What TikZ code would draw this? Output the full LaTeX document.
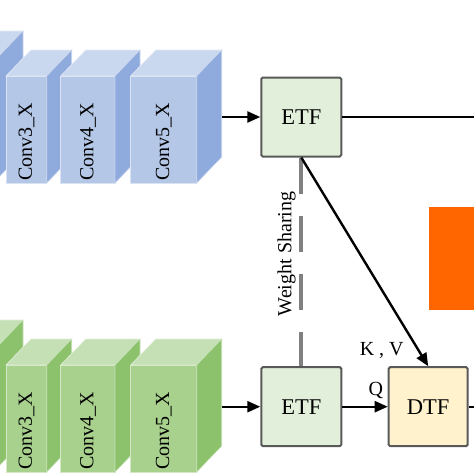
\documentclass[tikz,border=0pt]{standalone}
\usepackage{fontspec}
\setmainfont{Liberation Serif}
\usetikzlibrary{arrows.meta}
\definecolor{bfront}{HTML}{B4C7E7}
\definecolor{btop}{HTML}{CAD8EF}
\definecolor{bside}{HTML}{8FAADC}
\definecolor{gfront}{HTML}{A9D18E}
\definecolor{gtop}{HTML}{C5E0B4}
\definecolor{gside}{HTML}{8CC26C}
\definecolor{etfc}{HTML}{E2EFDA}
\definecolor{dtfc}{HTML}{FFF2CC}
\definecolor{edgec}{HTML}{595959}
\definecolor{orangec}{HTML}{FF6600}
\definecolor{dashc}{HTML}{808080}
\newcommand{\mycuboid}[7]{%
 \fill[#5,draw=white!50!#5,line width=0.6pt] (#1,#3) rectangle (#2,#4);
 \fill[#6,draw=white!50!#6,line width=0.6pt] (#1,#3) -- (#1+25,#3-26) -- (#2+25,#3-26) -- (#2,#3) -- cycle;
 \fill[#7,draw=white!50!#7,line width=0.6pt] (#2,#3) -- (#2+25,#3-26) -- (#2+25,#4-26) -- (#2,#4) -- cycle;
}
\tikzset{
 blk/.style={draw=edgec,line width=2pt,rounded corners=1.5pt,minimum width=80pt,minimum height=79pt,inner sep=0pt,font=\fontsize{22.5}{26}\selectfont},
 convlbl/.style={rotate=90,inner sep=0pt,font=\fontsize{20}{24}\selectfont},
 lbl/.style={inner sep=0pt,anchor=base,font=\fontsize{20}{24}\selectfont},
 arr/.style={line width=2.4pt,-{Triangle[length=13pt,width=11pt]}},
 ln/.style={line width=2.4pt},
}
\begin{document}
\begin{tikzpicture}[x=1pt,y=-1pt]
\useasboundingbox (0,0) rectangle (474,474);
\begin{scope}
\clip (0,0) rectangle (474,474);
\mycuboid{-60}{-2}{57}{178}{bfront}{btop}{bside}
\mycuboid{6}{46.7}{76}{183}{bfront}{btop}{bside}
\mycuboid{60.7}{115}{76}{183}{bfront}{btop}{bside}
\mycuboid{130.7}{196.7}{76}{183}{bfront}{btop}{bside}
\mycuboid{-60}{-2}{346}{467}{gfront}{gtop}{gside}
\mycuboid{6}{46.7}{365}{472}{gfront}{gtop}{gside}
\mycuboid{60.7}{115}{365}{472}{gfront}{gtop}{gside}
\mycuboid{130.7}{196.7}{365}{472}{gfront}{gtop}{gside}
\end{scope}
\node[convlbl] (c3a) at (26.5,141.5) {Conv3\_X};
\node[convlbl] (c4a) at (88,141.5) {Conv4\_X};
\node[convlbl] (c5a) at (163.7,141.5) {Conv5\_X};
\node[convlbl] (c3b) at (26.5,430.5) {Conv3\_X};
\node[convlbl] (c4b) at (88,430.5) {Conv4\_X};
\node[convlbl] (c5b) at (163.7,430.5) {Conv5\_X};
\fill[orangec] (428.7,207.3) rectangle (474,309.7);
\node[blk,fill=etfc] (etf1) at (301.3,117) {ETF};
\node[blk,fill=etfc] (etf2) at (301.3,406.7) {ETF};
\node[blk,fill=dtfc,minimum width=79pt] (dtf) at (428.2,406.7) {DTF};
\coordinate (o5a) at (221.7,117);
\coordinate (o5b) at (221.7,406.7);
\coordinate (ea) at (474,117);
\coordinate (eb) at (474,406.7);
\draw[dashc,line width=4pt,dash pattern=on 36pt off 22pt] (etf1.south) -- (etf2.north);
\draw[arr] (o5a) -- (etf1.west);
\draw[arr] (o5b) -- (etf2.west);
\draw[ln] (etf1.east) -- (ea);
\draw[ln] (dtf.east) -- (eb);
\draw[arr] (etf2.east) -- (dtf.west);
\draw[arr] (etf1.south) -- (dtf.north);
\node[convlbl] (ws) at (286.5,254) {Weight Sharing};
\node[lbl] (kv) at (381.7,355) {K , V};
\node[lbl] (q) at (375.8,395) {Q};
\end{tikzpicture}
\end{document}
